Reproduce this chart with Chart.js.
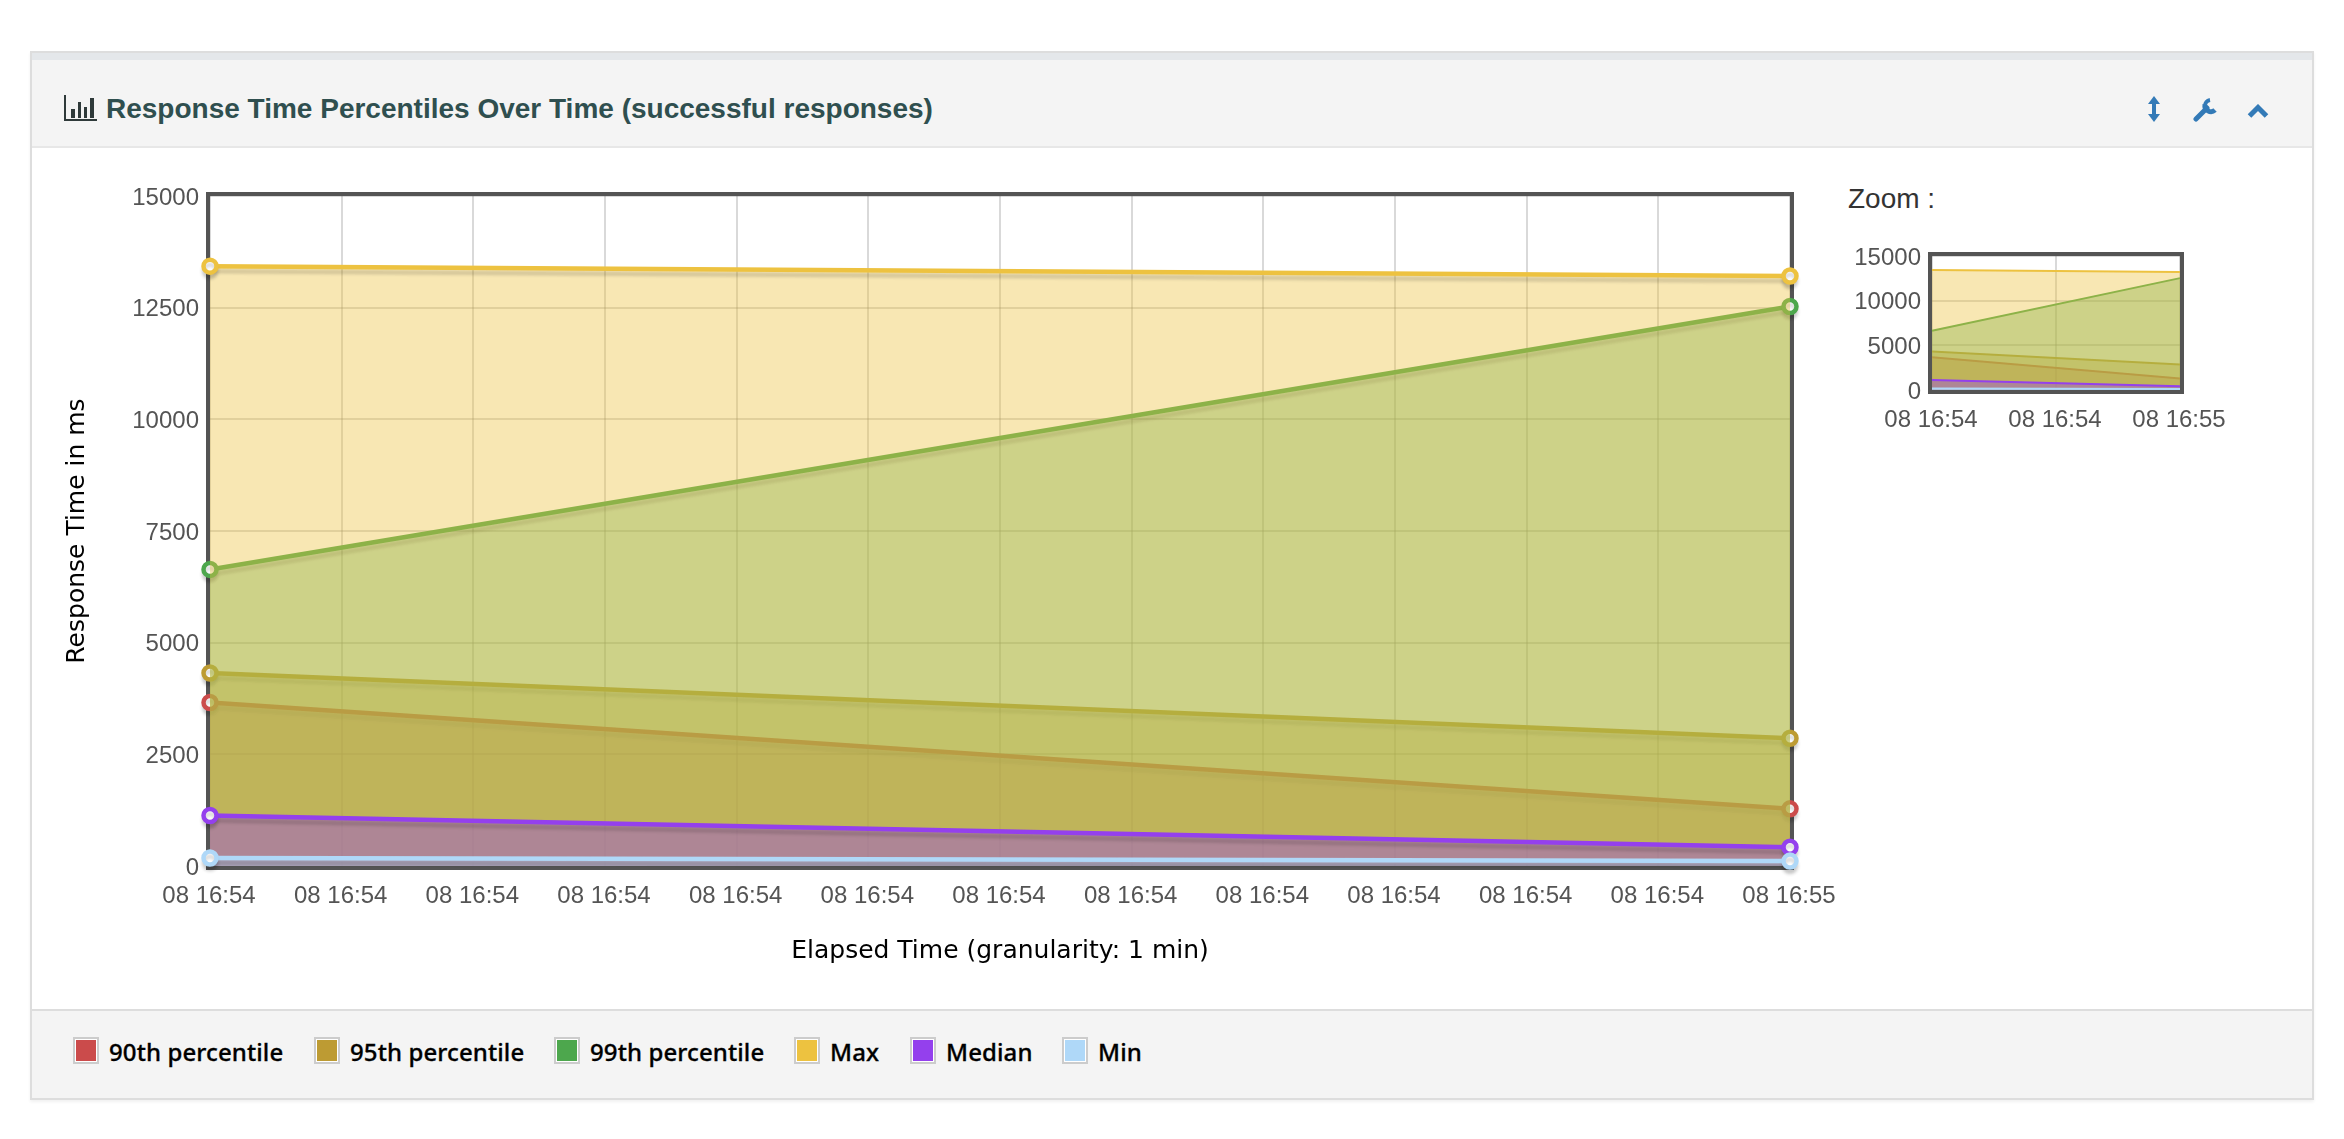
<!DOCTYPE html>
<html>
<head>
<meta charset="utf-8">
<title>Response Time Percentiles Over Time</title>
<script src="https://cdn.jsdelivr.net/npm/chart.js@4"></script>
<style>
  html, body { margin: 0; padding: 0; background: #fff; overflow: hidden; }
  body { width: 2344px; height: 1139px; position: relative; font-family: "Liberation Sans", sans-serif; }
  #panel { position: absolute; left: 30px; top: 51px; width: 2280px; height: 1045px; border: 2px solid #ddd; box-shadow: 0 2px 3px rgba(0,0,0,.06); }
  #band { position: absolute; left: 0; top: 0; right: 0; height: 7px; background: #e4e7ea; }
  #head { position: absolute; left: 0; top: 7px; right: 0; height: 86px; background: #f4f4f4; border-bottom: 2px solid #e7e7e7; }
  #foot { position: absolute; left: 0; top: 956px; right: 0; bottom: 0; background: #f4f4f4; border-top: 2px solid #ddd; }
  #title { position: absolute; left: 106px; top: 91px; font: bold 28px "Liberation Sans", sans-serif; color: #2f4f4f; line-height: 36px; white-space: nowrap; }
  .icon { position: absolute; }
  #zoom-label { position: absolute; left: 1848px; top: 183px; font: 28px/32px "Liberation Sans", sans-serif; color: #333; }
  canvas { position: absolute; }
  #chart-main { left: 32px; top: 148px; }
  #chart-zoom { left: 1840px; top: 230px; }
  .lg-box { position: absolute; top: 1037px; width: 20px; height: 21px; border: 2px solid #ccc; padding: 1px; background: #fff; }
  .lg-box div { width: 100%; height: 100%; }
  .lg-text { position: absolute; top: 1036px; font: 500 24px/32px "Noto Sans", sans-serif; letter-spacing: 0.1px; -webkit-text-stroke: 0.3px #000; color: #000; white-space: nowrap; }
</style>
</head>
<body>
<div id="panel">
  <div id="band"></div>
  <div id="head"></div>
  <div id="foot"></div>
</div>
<svg class="icon" style="left:64px;top:95px" width="34" height="27" viewBox="0 0 34 27">
  <path d="M1 0V25H33" fill="none" stroke="#2f3a3a" stroke-width="2"/>
  <path d="M7 14h4v9H7zM14 7h3v16h-3zM20 12h3v11h-3zM26 3h4v20h-4z" fill="#2f3a3a"/>
</svg>
<div id="title">Response Time Percentiles Over Time (successful responses)</div>
<svg class="icon" style="left:2146px;top:96px" width="16" height="26" viewBox="0 0 16 26">
  <path d="M8 0L14 8H10V18H14L8 26L2 18H6V8H2Z" fill="#337ab7"/>
</svg>
<svg class="icon" style="left:2193px;top:98px" width="24" height="24" viewBox="0 0 24 24">
  <path d="M3 21L14 10" stroke="#337ab7" stroke-width="5" stroke-linecap="round"/>
  <path d="M12 6.5A6 6 0 0 0 22 12" fill="none" stroke="#337ab7" stroke-width="5"/>
  <path d="M12 8A6 6 0 0 1 17 2" fill="none" stroke="#337ab7" stroke-width="4"/>
</svg>
<svg class="icon" style="left:2247px;top:104px" width="22" height="15" viewBox="0 0 22 15">
  <path d="M2.5 12L11 3.5L19.5 12" fill="none" stroke="#337ab7" stroke-width="5"/>
</svg>
<div id="zoom-label">Zoom :</div>
<canvas id="chart-main" width="1830" height="860" style="width:1830px;height:860px"></canvas>
<canvas id="chart-zoom" width="410" height="220" style="width:410px;height:220px"></canvas>
<div id="legend"></div>

<script>
const elapsedSeconds = [0, 60];
const seriesNames = ['90th percentile', '95th percentile', '99th percentile', 'Max', 'Median', 'Min'];
const seriesColors = ['#cb4b4b', '#bd9b33', '#4da74d', '#edc240', '#9440ed', '#afd8f8'];

const p90Values = [3660, 1280];
const p95Values = [4320, 2860];
const p99Values = [6640, 12525];
const maxValues = [13430, 13210];
const medianValues = [1130, 420];
const minValues = [180, 110];
const seriesValues = [p90Values, p95Values, p99Values, maxValues, medianValues, minValues];

const mainTickLabels = [
  '08 16:54', '08 16:54', '08 16:54', '08 16:54', '08 16:54', '08 16:54', '08 16:54',
  '08 16:54', '08 16:54', '08 16:54', '08 16:54', '08 16:54', '08 16:55'
];
const zoomTickLabels = ['08 16:54', '08 16:54', '08 16:55'];

const BORDER_COLOR = '#545454';
const GRID_COLOR = 'rgba(84,84,84,0.22)';
const TICK_FONT = { family: "'Liberation Sans', sans-serif", size: 24 };
const TITLE_FONT = { family: "'DejaVu Sans', sans-serif", size: 25 };

// box around the plot, under the data like flot draws it
const plotBorder = {
  id: 'plotBorder',
  beforeDatasetsDraw(chart) {
    const { ctx, chartArea: a } = chart;
    ctx.save();
    ctx.strokeStyle = BORDER_COLOR;
    ctx.lineWidth = 4;
    ctx.strokeRect(a.left - 2, a.top - 2, a.width + 4, a.height + 4);
    ctx.restore();
  }
};

// soft shadow under lines and points, only on the big chart
const lineShadow = {
  id: 'lineShadow',
  beforeDatasetDraw(chart) {
    const ctx = chart.ctx;
    ctx.save();
    ctx.shadowColor = 'rgba(0,0,0,0.14)';
    ctx.shadowOffsetY = 5;
    ctx.shadowBlur = 3;
  },
  afterDatasetDraw(chart) {
    chart.ctx.restore();
  }
};

function makeDatasets(lineWidth, pointRadius) {
  return seriesNames.map((name, i) => ({
    label: name,
    data: elapsedSeconds.map((x, k) => ({ x, y: seriesValues[i][k] })),
    borderColor: seriesColors[i],
    backgroundColor: seriesColors[i] + '66',
    borderWidth: lineWidth,
    fill: 'origin',
    tension: 0,
    clip: false,
    pointRadius,
    pointBorderWidth: 4.5,
    pointBorderColor: seriesColors[i],
    pointBackgroundColor: '#fff',
    // chart.js paints low order last, flot paints in series order
    order: seriesNames.length - i
  }));
}

function makeChart(canvasId, cfg) {
  return new Chart(document.getElementById(canvasId), {
    type: 'line',
    data: { datasets: makeDatasets(cfg.lineWidth, cfg.pointRadius) },
    plugins: cfg.plugins,
    options: {
      responsive: false,
      animation: false,
      devicePixelRatio: 1,
      layout: { autoPadding: false, padding: cfg.padding },
      plugins: { legend: { display: false }, tooltip: { enabled: false } },
      scales: {
        x: {
          type: 'linear',
          min: 0,
          max: 60,
          afterFit: s => { s.height = cfg.xHeight; },
          grid: { color: GRID_COLOR, lineWidth: 2, drawTicks: false },
          border: { display: false },
          ticks: {
            stepSize: cfg.xStep,
            color: BORDER_COLOR,
            font: TICK_FONT,
            padding: 16,
            labelOffset: -1,
            maxRotation: 0,
            autoSkip: false,
            callback: (v, i) => cfg.tickLabels[i]
          },
          title: cfg.xTitle
        },
        y: {
          min: 0,
          max: 15000,
          afterFit: s => { s.width = cfg.yWidth; },
          grid: { color: GRID_COLOR, lineWidth: 2, drawTicks: false },
          border: { display: false },
          ticks: {
            stepSize: cfg.yStep,
            color: BORDER_COLOR,
            font: TICK_FONT,
            padding: 11,
            labelOffset: 2,
            callback: v => String(v)
          },
          title: cfg.yTitle
        }
      }
    }
  });
}

makeChart('chart-main', {
  lineWidth: 4.5,
  pointRadius: 6.5,
  xStep: 5,
  yStep: 2500,
  tickLabels: mainTickLabels,
  padding: { left: 0, top: 48, right: 72, bottom: 0 },
  xHeight: 142,
  yWidth: 178,
  plugins: [plotBorder, lineShadow],
  xTitle: { display: true, text: 'Elapsed Time (granularity: 1 min)', color: '#000', font: TITLE_FONT, padding: { top: 0, bottom: 42 } },
  yTitle: { display: true, text: 'Response Time in ms', color: '#000', font: TITLE_FONT, padding: { top: 30, bottom: 0 } }
});

makeChart('chart-zoom', {
  lineWidth: 2,
  pointRadius: 0,
  xStep: 30,
  yStep: 5000,
  tickLabels: zoomTickLabels,
  padding: { left: 0, top: 26, right: 70, bottom: 0 },
  xHeight: 60,
  yWidth: 92,
  plugins: [plotBorder],
  xTitle: { display: false },
  yTitle: { display: false }
});

// html legend, same as the flot table under the chart
const legendBoxX = [73, 314, 554, 794, 910, 1062];
const legendEl = document.getElementById('legend');
seriesNames.forEach((name, i) => {
  const box = document.createElement('div');
  box.className = 'lg-box';
  box.style.left = legendBoxX[i] + 'px';
  const swatch = document.createElement('div');
  swatch.style.background = seriesColors[i];
  box.appendChild(swatch);
  const text = document.createElement('div');
  text.className = 'lg-text';
  text.style.left = (legendBoxX[i] + 36) + 'px';
  text.textContent = name;
  legendEl.append(box, text);
});
</script>
</body>
</html>
